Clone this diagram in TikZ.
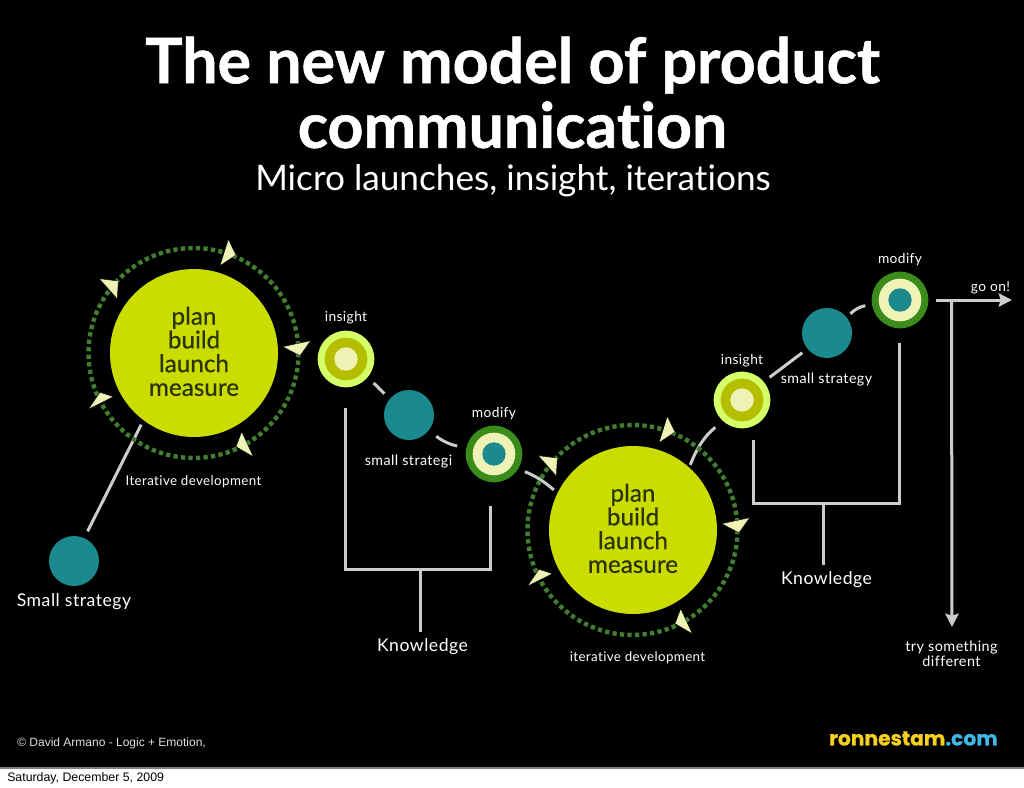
\documentclass[tikz,border=0pt]{standalone}
\usepackage{fontspec}
\setmainfont[Ligatures=NoCommon]{Lato}
\newfontfamily\headfont[Ligatures=NoCommon, BoldFeatures={FakeBold=0.9}]{Lato}
\newfontfamily\discfont[Ligatures=NoCommon, FakeBold=0.5]{Lato}
\newfontfamily\tagfont[Ligatures=NoCommon, LetterSpace=3]{Lato}
\newfontfamily\stampfont{Liberation Sans}
\newfontfamily\brandfont[BoldFeatures={FakeBold=0.6}]{Poppins}
\usetikzlibrary{arrows.meta}
\definecolor{biglime}{HTML}{CBDC00}
\definecolor{deepolive}{HTML}{2B3300}
\definecolor{tealdot}{HTML}{1A8A8E}
\definecolor{palelime}{HTML}{D4FF66}
\definecolor{midlime}{HTML}{B5BF00}
\definecolor{cream}{HTML}{EEF3B5}
\definecolor{leaf}{HTML}{3A8C1A}
\definecolor{ringgreen}{HTML}{3F7F2F}
\definecolor{linkgray}{HTML}{CCCCCC}
\definecolor{brandyellow}{HTML}{F5D01F}
\definecolor{brandblue}{HTML}{3FB8E8}
\tikzset{
	disc/.style={circle, draw=none, inner sep=0pt, outer sep=0pt},
	bigdisc/.style={disc, fill=biglime, minimum size=126pt},
	bigtext/.style={text=deepolive, align=center, inner sep=0pt, font=\fontsize{18.2}{17.8}\discfont},
	smalldisc/.style={disc, fill=tealdot, minimum size=37.5pt},
	tag/.style={text=white, align=center, inner sep=0pt, font=\fontsize{10.3}{11.5}\tagfont},
	knowtag/.style={tag, font=\fontsize{13.2}{14}\tagfont},
	link/.style={draw=linkgray, line width=2.25pt},
	arrowlink/.style={link, -{Stealth[length=10pt,width=10pt,inset=1.5pt]}},
	dotring/.style={draw=ringgreen, line width=3.3pt, dash pattern=on 3.2pt off 2.45pt},
	ringtip/.style={fill=cream, draw=black, line width=0.3pt}
}
\begin{document}
\begin{tikzpicture}[x=0.75pt, y=-0.75pt]
	\useasboundingbox (0,0) rectangle (1024,788);
	% slide and date strip
	\fill[black] (0,0) rectangle (1024,767);
	\fill[gray] (0,767) rectangle (1024,769);
	\node[anchor=west, inner sep=0pt, font=\fontsize{9.25}{12}\stampfont] (stamp) at (7,778) {Saturday, December 5, 2009};
	
	% heading
	\node[text=white, align=center, inner sep=0pt, font=\fontsize{47}{48.5}\headfont\bfseries] (title) at (512.5,92.5)
		{The new model of product\\communication};
	\node[text=white, inner sep=0pt, font=\fontsize{26.4}{30}\selectfont] (subtitle) at (513,181) {Micro launches, insight, iterations};
	
	% big discs
	\foreach \nm/\pos in {A/{194,353}, B/{633,530}}{
		\node[bigdisc] (big\nm) at (\pos) {};
		\node[bigtext, yshift=1.2pt] (big\nm text) at (big\nm) {plan\\build\\launch\\measure};
	}
	
	% small discs
	\foreach \nm/\pos in {A/{74,561}, B/{409,415}, C/{827,333}}{
		\node[smalldisc] (small\nm) at (\pos) {};
	}
	
	% insight rings
	\foreach \nm/\pos in {A/{346,359}, B/{742,400}}{
		\node[disc, fill=palelime, minimum size=42.5pt] (insight\nm) at (\pos) {};
		\node[disc, fill=midlime, minimum size=32pt] (insight\nm mid) at (\pos) {};
		\node[disc, fill=cream, minimum size=17.5pt] (insight\nm core) at (\pos) {};
	}
	
	% modify rings
	\foreach \nm/\pos in {A/{494,454}, B/{900,300}}{
		\node[disc, fill=leaf, minimum size=42.5pt] (modify\nm) at (\pos) {};
		\node[disc, fill=cream, minimum size=32pt] (modify\nm mid) at (\pos) {};
		\node[disc, fill=tealdot, minimum size=17.5pt] (modify\nm core) at (\pos) {};
	}
	
	% links along the path
	\draw[link, shorten <=5.8pt, shorten >=3.8pt] (smallA.66) -- (bigA.233);
	\draw[link, shorten <=6.2pt, shorten >=5.6pt] (insightA.320) -- (smallB.140);
	\draw[link, shorten <=7.2pt, shorten >=7pt] (smallB.323) to[bend right=15] (modifyA.167);
	\draw[link, shorten <=5.5pt, shorten >=3.7pt] (modifyA.328) to[bend left=10] (bigB.154);
	\draw[link, shorten <=2.2pt, shorten >=7.5pt] (bigB.48) to[bend left=15] (insightB.228);
	\draw[link, shorten <=5.6pt, shorten >=5pt] (insightB.40) -- (smallC.219);
	\draw[link, shorten <=4pt, shorten >=5.1pt] (smallC.38) to[bend left=20] (modifyB.190);
	
	% dotted rings and their tips
	\foreach \ox/\oy in {0/0, 439/177}{
		\begin{scope}[shift={(\ox,\oy)}]
			\draw[dotring] (193.5,353) circle (105);
			\filldraw[ringtip] (228.3,239.3) -- (236,255) -- (220,265.7) -- cycle;
			\filldraw[ringtip] (99.3,278.7) -- (118.3,281) -- (117.3,299) -- cycle;
			\filldraw[ringtip] (310.7,340.7) -- (282.7,346.7) -- (300,355.7) -- cycle;
			\filldraw[ringtip] (253.3,456.7) -- (241.7,431.7) -- (236,446.7) -- cycle;
			\filldraw[ringtip] (88.3,409.3) -- (100,392.3) -- (113.3,396.7) -- cycle;
		\end{scope}
	}
	
	% labels
	\node[tag] (insightAtag) at (346,317.5) {insight};
	\node[tag] (insightBtag) at (742,360.5) {insight};
	\node[tag] (modifyAtag) at (494,414) {modify};
	\node[tag] (modifyBtag) at (900,260) {modify};
	\node[tag, font=\fontsize{10.7}{11.5}\tagfont] (smallBtag) at (408.5,461.5) {small strategi};
	\node[tag, font=\fontsize{10.7}{11.5}\tagfont] (smallCtag) at (826.5,379.5) {small strategy};
	\node[tag, font=\fontsize{10}{11.5}\tagfont] (iterAtag) at (193.5,481.5) {Iterative development};
	\node[tag, font=\fontsize{10}{11.5}\tagfont] (iterBtag) at (637.5,657.5) {iterative development};
	\node[knowtag] (smallAtag) at (74,601.5) {Small strategy};
	\node[knowtag] (knowA) at (422.5,647) {Knowledge};
	\node[knowtag] (knowB) at (826.5,580) {Knowledge};
	\node[tag] (gotag) at (990.5,288) {go on!};
	\node[tag, font=\fontsize{10.8}{11.5}\tagfont] (trytag) at (951.5,654) {try something\\different};
	
	% knowledge brackets
	\coordinate (brackAl) at (345,408);
	\coordinate (brackAr) at (490.7,505.7);
	\coordinate (stemA) at (420.7,569);
	\coordinate (brackBl) at (753.3,440);
	\coordinate (brackBr) at (899.3,342.7);
	\coordinate (stemB) at (823.3,503.3);
	\draw[link] (brackAl) |- (stemA) -| (brackAr);
	\draw[link, shorten >=5pt] (stemA) -- (stemA |- knowA.north);
	\draw[link] (brackBl) |- (stemB) -| (brackBr);
	\draw[link, shorten >=5pt] (stemB) -- (stemB |- knowB.north);
	
	% way out
	\coordinate (goL) at (936,300);
	\coordinate (goR) at (1012,300);
	\coordinate (goFork) at (951.5,300);
	\coordinate (tryEnd) at (952,627);
	\draw[arrowlink] (goL) -- (goR);
	\draw[arrowlink] (goFork) -- (tryEnd);
	
	% credits
	\node[anchor=west, text=white!88!black, inner sep=0pt, font=\fontsize{9}{11}\stampfont] (credit) at (17,743.5) {© David Armano - Logic + Emotion,};
	\node[anchor=east, inner sep=0pt, font=\fontsize{15.2}{17}\brandfont\bfseries] (brand) at (998,738.5)
		{\textcolor{brandyellow}{ronnestam}\textcolor{brandblue}{.com}};
\end{tikzpicture}
\end{document}
